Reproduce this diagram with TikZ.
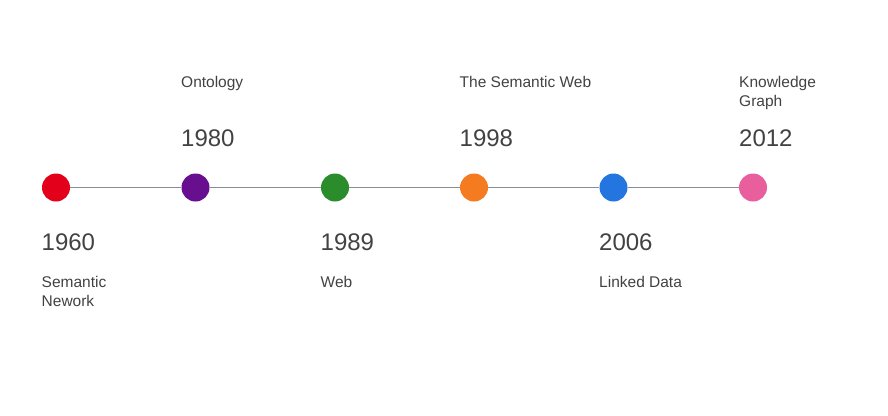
\documentclass[tikz,border=0pt]{standalone}
\usepackage{fontspec}
\setmainfont{Liberation Sans}
\definecolor{txt}{HTML}{424242}
\definecolor{axis}{HTML}{8A8E92}
\definecolor{cRed}{HTML}{E3001B}
\definecolor{cPurple}{HTML}{680F8F}
\definecolor{cGreen}{HTML}{2A8C2A}
\definecolor{cOrange}{HTML}{F47B20}
\definecolor{cBlue}{HTML}{2475E0}
\definecolor{cPink}{HTML}{E95E9D}
\tikzset{
  dot/.style={circle, minimum size=28pt, inner sep=0pt, draw=none},
  axisline/.style={axis, line width=1.8pt},
  yeartext/.style={anchor=base west, inner sep=0pt, text=txt, font=\fontsize{24}{28}\selectfont},
  labtext/.style={anchor=base west, inner sep=0pt, text=txt, align=left, font=\fontsize{15.5}{19}\selectfont},
}
\begin{document}
\begin{tikzpicture}[x=1pt,y=-1pt]
\useasboundingbox (0,0) rectangle (888,415);
\node[dot, fill=cRed]    (d1) at (56,187.5) {};
\node[dot, fill=cPurple] (d2) at (195.5,187.5) {};
\node[dot, fill=cGreen]  (d3) at (335,187.5) {};
\node[dot, fill=cOrange] (d4) at (474,187.5) {};
\node[dot, fill=cBlue]   (d5) at (613.5,187.5) {};
\node[dot, fill=cPink]   (d6) at (753,187.5) {};
\draw[axisline] (d1.east) -- (d2.west);
\draw[axisline] (d2.east) -- (d3.west);
\draw[axisline] (d3.east) -- (d4.west);
\draw[axisline] (d4.east) -- (d5.west);
\draw[axisline] (d5.east) -- (d6.west);
% below
\node[yeartext] (y1) at (41.5,250) {1960};
\node[labtext]  (l1) at (41.5,306) {Semantic\\Nework};
\node[yeartext] (y3) at (320.5,250) {1989};
\node[labtext]  (l3) at (320.5,287) {Web};
\node[yeartext] (y5) at (599,250) {2006};
\node[labtext]  (l5) at (599,287) {Linked Data};
% above
\node[yeartext] (y2) at (181,146.5) {1980};
\node[labtext]  (l2) at (181,87) {Ontology};
\node[yeartext] (y4) at (459.5,146.5) {1998};
\node[labtext]  (l4) at (459.5,87) {The Semantic Web};
\node[yeartext] (y6) at (739,146.5) {2012};
\node[labtext]  (l6) at (739,106) {Knowledge\\Graph};
\end{tikzpicture}
\end{document}
